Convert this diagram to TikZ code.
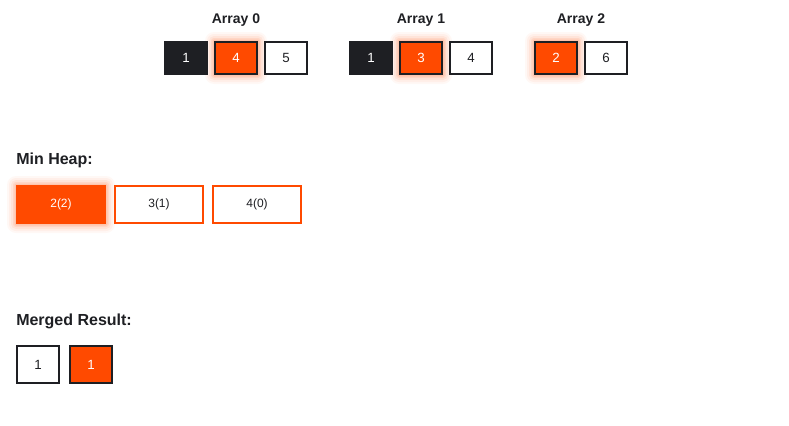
\documentclass[tikz,border=0pt]{standalone}
\usepackage{fontspec}
\setmainfont{Liberation Sans}
\definecolor{dk}{HTML}{1E1F23}
\definecolor{og}{HTML}{FF4A00}
\begin{document}
\begin{tikzpicture}[x=0.75pt,y=-0.75pt,
  cell/.style={draw=dk,line width=1.5pt,minimum width=31.5pt,minimum height=24.5pt,inner sep=0pt,font=\fontsize{10}{12}\selectfont,text=dk,fill=white},
  darkcell/.style={cell,fill=dk,text=white},
  hotcell/.style={cell,fill=og,text=white},
  heapcell/.style={draw=og,line width=1.5pt,minimum width=66pt,minimum height=28pt,inner sep=0pt,font=\fontsize{9}{11}\selectfont,text=dk,fill=white},
  hotheap/.style={heapcell,fill=og,text=white},
  lbl/.style={font=\bfseries\fontsize{10.5}{12}\selectfont,text=dk,inner sep=0pt},
  hlbl/.style={lbl,anchor=west,font=\bfseries\fontsize{12}{14}\selectfont}]
\useasboundingbox (0,0) rectangle (789,425);
\newcommand{\glow}[4]{%
  \foreach \r/\o in {9/0.04,7/0.05,5/0.07,3/0.09,1.5/0.12}{%
    \fill[og,opacity=\o,rounded corners=\r*0.75pt] (#1-\r,#2-\r) rectangle (#3+\r,#4+\r);}}
% glows
\glow{214}{41}{258}{75}
\glow{399}{41}{443}{75}
\glow{534}{41}{578}{75}
\glow{16}{185}{106}{224}
% Array labels
\node[lbl] (l0) at (236,20) {Array 0};
\node[lbl] (l1) at (421,20) {Array 1};
\node[lbl] (l2) at (581,20) {Array 2};
% Array 0
\node[darkcell] (a00) at (186,58) {1};
\node[hotcell] (a01) at (236,58) {4};
\node[cell] (a02) at (286,58) {5};
% Array 1
\node[darkcell] (a10) at (371,58) {1};
\node[hotcell] (a11) at (421,58) {3};
\node[cell] (a12) at (471,58) {4};
% Array 2
\node[hotcell] (a20) at (556,58) {2};
\node[cell] (a21) at (606,58) {6};
% Min heap
\node[hlbl] (hl) at (16,160) {Min Heap:};
\node[hotheap] (h0) at (61,204.5) {2(2)};
\node[heapcell] (h1) at (159,204.5) {3(1)};
\node[heapcell] (h2) at (257,204.5) {4(0)};
% Merged
\node[hlbl] (ml) at (16,321) {Merged Result:};
\node[cell,minimum height=28pt] (m0) at (38,364.5) {1};
\node[hotcell,minimum height=28pt] (m1) at (91,364.5) {1};
\end{tikzpicture}
\end{document}
